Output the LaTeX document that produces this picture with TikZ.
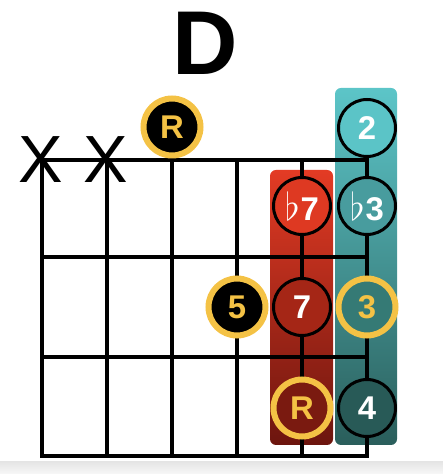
\documentclass[tikz,border=0pt]{standalone}
\usepackage{fontspec}
\setmainfont{Liberation Sans}
\definecolor{ringgold}{HTML}{F4C245}
\definecolor{tealtop}{HTML}{5CC5C8}
\definecolor{tealbot}{HTML}{2A5E5B}
\definecolor{redtop}{HTML}{E33B24}
\definecolor{redbot}{HTML}{6C150E}
\definecolor{tealA}{HTML}{5BC4C7}
\definecolor{tealB}{HTML}{489C9E}
\definecolor{tealC}{HTML}{357A75}
\definecolor{tealD}{HTML}{285A57}
\definecolor{redA}{HTML}{DE3922}
\definecolor{redB}{HTML}{A52616}
\definecolor{redC}{HTML}{7A1A10}
\newcommand{\flatsign}{\scalebox{1.55}{$\flat$}\kern1bp}
\tikzset{
  gridline/.style={line width=3.6bp, line cap=rect},
  tone/.style={circle, draw=black, line width=3bp, minimum size=57bp, inner sep=0pt,
    font=\fontsize{33}{33}\selectfont\bfseries, text=white},
  root/.style={tone, draw=ringgold, line width=6bp, text=ringgold},
  mute/.style={inner sep=0pt, font=\fontsize{67}{67}\selectfont},
}
\begin{document}
\begin{tikzpicture}[line join=miter]
\useasboundingbox (0bp,0bp) rectangle (443bp,474bp);
%%
  % Shadow below the diagram
  \shade [top color=black!10, bottom color=black!3] (0bp,0bp) rectangle (443bp,12bp);
  % Box: flat-7 / 7 / root column
  \shade [top color=redtop, bottom color=redbot, rounded corners=6bp] (270bp,29bp) rectangle (333bp,304bp);
  % Box: 2 / flat-3 / 3 / 4 column
  \shade [top color=tealtop, bottom color=tealbot, rounded corners=6bp] (335bp,29bp) rectangle (397bp,386bp);
%%
  % Frame corners
  \coordinate (s_1t) at (42bp,314bp);
  \coordinate (s_2t) at (107bp,314bp);
  \coordinate (s_3t) at (172bp,314bp);
  \coordinate (s_4t) at (237bp,314bp);
  \coordinate (s_5t) at (302bp,314bp);
  \coordinate (s_6t) at (367bp,314bp);
  \coordinate (s_1b) at (42bp,18bp);
  \coordinate (s_2b) at (107bp,18bp);
  \coordinate (s_3b) at (172bp,18bp);
  \coordinate (s_4b) at (237bp,18bp);
  \coordinate (s_5b) at (302bp,18bp);
  \coordinate (s_6b) at (367bp,18bp);
  \coordinate (f_1l) at (42bp,217bp);
  \coordinate (f_1r) at (367bp,217bp);
  \coordinate (f_2l) at (42bp,117bp);
  \coordinate (f_2r) at (367bp,117bp);
  % Nut and frets
  \draw [gridline] (s_1t) -- (s_6t);
  \draw [gridline] (f_1l) -- (f_1r);
  \draw [gridline] (f_2l) -- (f_2r);
  \draw [gridline] (s_1b) -- (s_6b);
  % Strings
  \draw [gridline] (s_1t) -- (s_1b);
  \draw [gridline] (s_2t) -- (s_2b);
  \draw [gridline] (s_3t) -- (s_3b);
  \draw [gridline] (s_4t) -- (s_4b);
  \draw [gridline] (s_5t) -- (s_5b);
  \draw [gridline] (s_6t) -- (s_6b);
%%
  % Title
  \node [anchor=base, inner sep=0pt, font=\fontsize{91}{91}\selectfont\bfseries] (title) at (205bp,399bp) {D};
  % Muted strings
  \node [mute, anchor=base] (x_1) at (41bp,291bp) {X};
  \node [mute, anchor=base] (x_2) at (106bp,291bp) {X};
%%
  % Node: open root
  \node [root, fill=black] (n_r0) at (172bp,347bp) {R};
  % Node: 2
  \node [tone, fill=tealA] (n_2) at (367bp,346bp) {2};
  % Node: flat 7
  \node [tone, fill=redA] (n_b7) at (302bp,268bp) {\flatsign7};
  % Node: flat 3
  \node [tone, fill=tealB] (n_b3) at (367bp,268bp) {\flatsign3};
  % Node: 5
  \node [root, fill=black] (n_5) at (237bp,167bp) {5};
  % Node: 7
  \node [tone, fill=redB] (n_7) at (302bp,167bp) {7};
  % Node: 3
  \node [root, fill=tealC] (n_3) at (367bp,167bp) {3};
  % Node: root
  \node [root, fill=redC] (n_r) at (302bp,66bp) {R};
  % Node: 4
  \node [tone, fill=tealD] (n_4) at (367bp,66bp) {4};
%
\end{tikzpicture}
\end{document}
